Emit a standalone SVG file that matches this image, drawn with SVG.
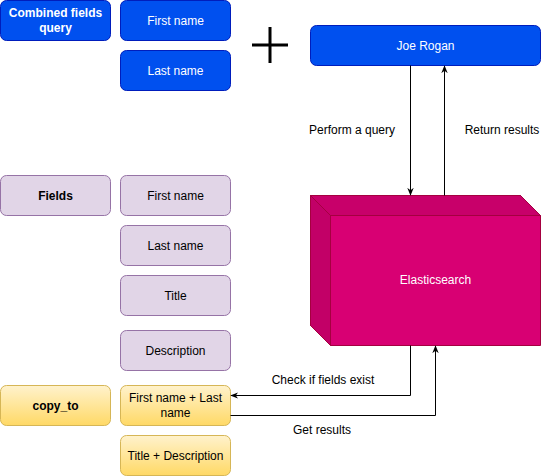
<svg xmlns="http://www.w3.org/2000/svg" width="556" height="476" viewBox="0 0 556 476">
<defs>
<style>
text{font-family:"Liberation Sans",Arial,sans-serif;font-size:12px;text-anchor:middle;dominant-baseline:central}
.blue{fill:#0050ef;stroke:#001dbc}
.blue-t{fill:#ffffff}
.purple{fill:#e1d5e7;stroke:#9673a6}
.yellow{fill:url(#yg);stroke:#d6b656}
.b{font-weight:bold}
.edge{fill:none;stroke:#000000;stroke-width:1}
</style>
<linearGradient id="yg" x1="0" y1="0" x2="0" y2="1">
<stop offset="0" stop-color="#fff2cc"/>
<stop offset="1" stop-color="#ffd966"/>
</linearGradient>
<marker id="arr" viewBox="0 0 10 10" refX="9" refY="5" markerWidth="8" markerHeight="8" orient="auto" markerUnits="userSpaceOnUse">
<path d="M0,1 L10,5 L0,9 L3,5 Z" fill="#000"/>
</marker>
</defs>
<rect width="556" height="476" fill="#ffffff"/>

<g id="combined-query"><rect class="blue" x="0.5" y="0.5" width="110" height="40" rx="6"/><text class="blue-t b" x="55.5" y="13">Combined fields</text><text class="blue-t b" x="55.5" y="28">query</text></g>
<g id="q-first"><rect class="blue" x="120.5" y="0.5" width="110" height="40" rx="6"/><text class="blue-t" x="175.5" y="20.5">First name</text></g>
<g id="q-last"><rect class="blue" x="120.5" y="50.5" width="110" height="40" rx="6"/><text class="blue-t" x="175.5" y="70.5">Last name</text></g>
<g id="plus"><path d="M252,45 H288 M270,27 V63" stroke="#000" stroke-width="3" fill="none"/></g>
<g id="joe"><rect class="blue" x="310.5" y="25.5" width="230" height="40" rx="6"/><text class="blue-t" x="425.5" y="45.5">Joe Rogan</text></g>

<g id="fields"><rect class="purple" x="0.5" y="175.5" width="110" height="40" rx="6"/><text class="b" x="55.5" y="195.5">Fields</text></g>
<g id="f-first"><rect class="purple" x="120.5" y="175.5" width="110" height="40" rx="6"/><text x="175.5" y="195.5">First name</text></g>
<g id="f-last"><rect class="purple" x="120.5" y="225.5" width="110" height="40" rx="6"/><text x="175.5" y="245.5">Last name</text></g>
<g id="f-title"><rect class="purple" x="120.5" y="275.5" width="110" height="40" rx="6"/><text x="175.5" y="295.5">Title</text></g>
<g id="f-desc"><rect class="purple" x="120.5" y="330.5" width="110" height="40" rx="6"/><text x="175.5" y="350.5">Description</text></g>

<g id="copy-to"><rect class="yellow" x="0.5" y="385.5" width="110" height="40" rx="6"/><text class="b" x="55.5" y="405.5">copy_to</text></g>
<g id="c-name"><rect class="yellow" x="120.5" y="385.5" width="110" height="40" rx="6"/><text x="175.5" y="398">First name + Last</text><text x="175.5" y="413">name</text></g>
<g id="c-titledesc"><rect class="yellow" x="120.5" y="435.5" width="110" height="40" rx="6"/><text x="175.5" y="455.5">Title + Description</text></g>

<g id="elasticsearch">
<path d="M310.5,195.5 H520.5 L540.5,215.5 V345.5 H330.5 L310.5,325.5 Z" fill="#d80073" stroke="#a50040"/>
<path d="M310.5,195.5 H520.5 L540.5,215.5 H330.5 Z" fill="#000" fill-opacity="0.07" stroke="#a50040"/>
<path d="M310.5,195.5 L330.5,215.5 V345.5 L310.5,325.5 Z" fill="#000" fill-opacity="0.1" stroke="#a50040"/>
<text class="blue-t" x="435.5" y="280">Elasticsearch</text>
</g>

<g id="connectors">
<path class="edge" d="M410.5,65.5 V195" marker-end="url(#arr)"/>
<path class="edge" d="M444.5,195.5 V66" marker-end="url(#arr)"/>
<path class="edge" d="M410.5,345.5 V395.5 H231" marker-end="url(#arr)"/>
<path class="edge" d="M230.5,415.5 H435.5 V346" marker-end="url(#arr)"/>
<text x="352" y="130">Perform a query</text>
<text x="502" y="130">Return results</text>
<text x="323" y="380">Check if fields exist</text>
<text x="322" y="430">Get results</text>
</g>
</svg>
